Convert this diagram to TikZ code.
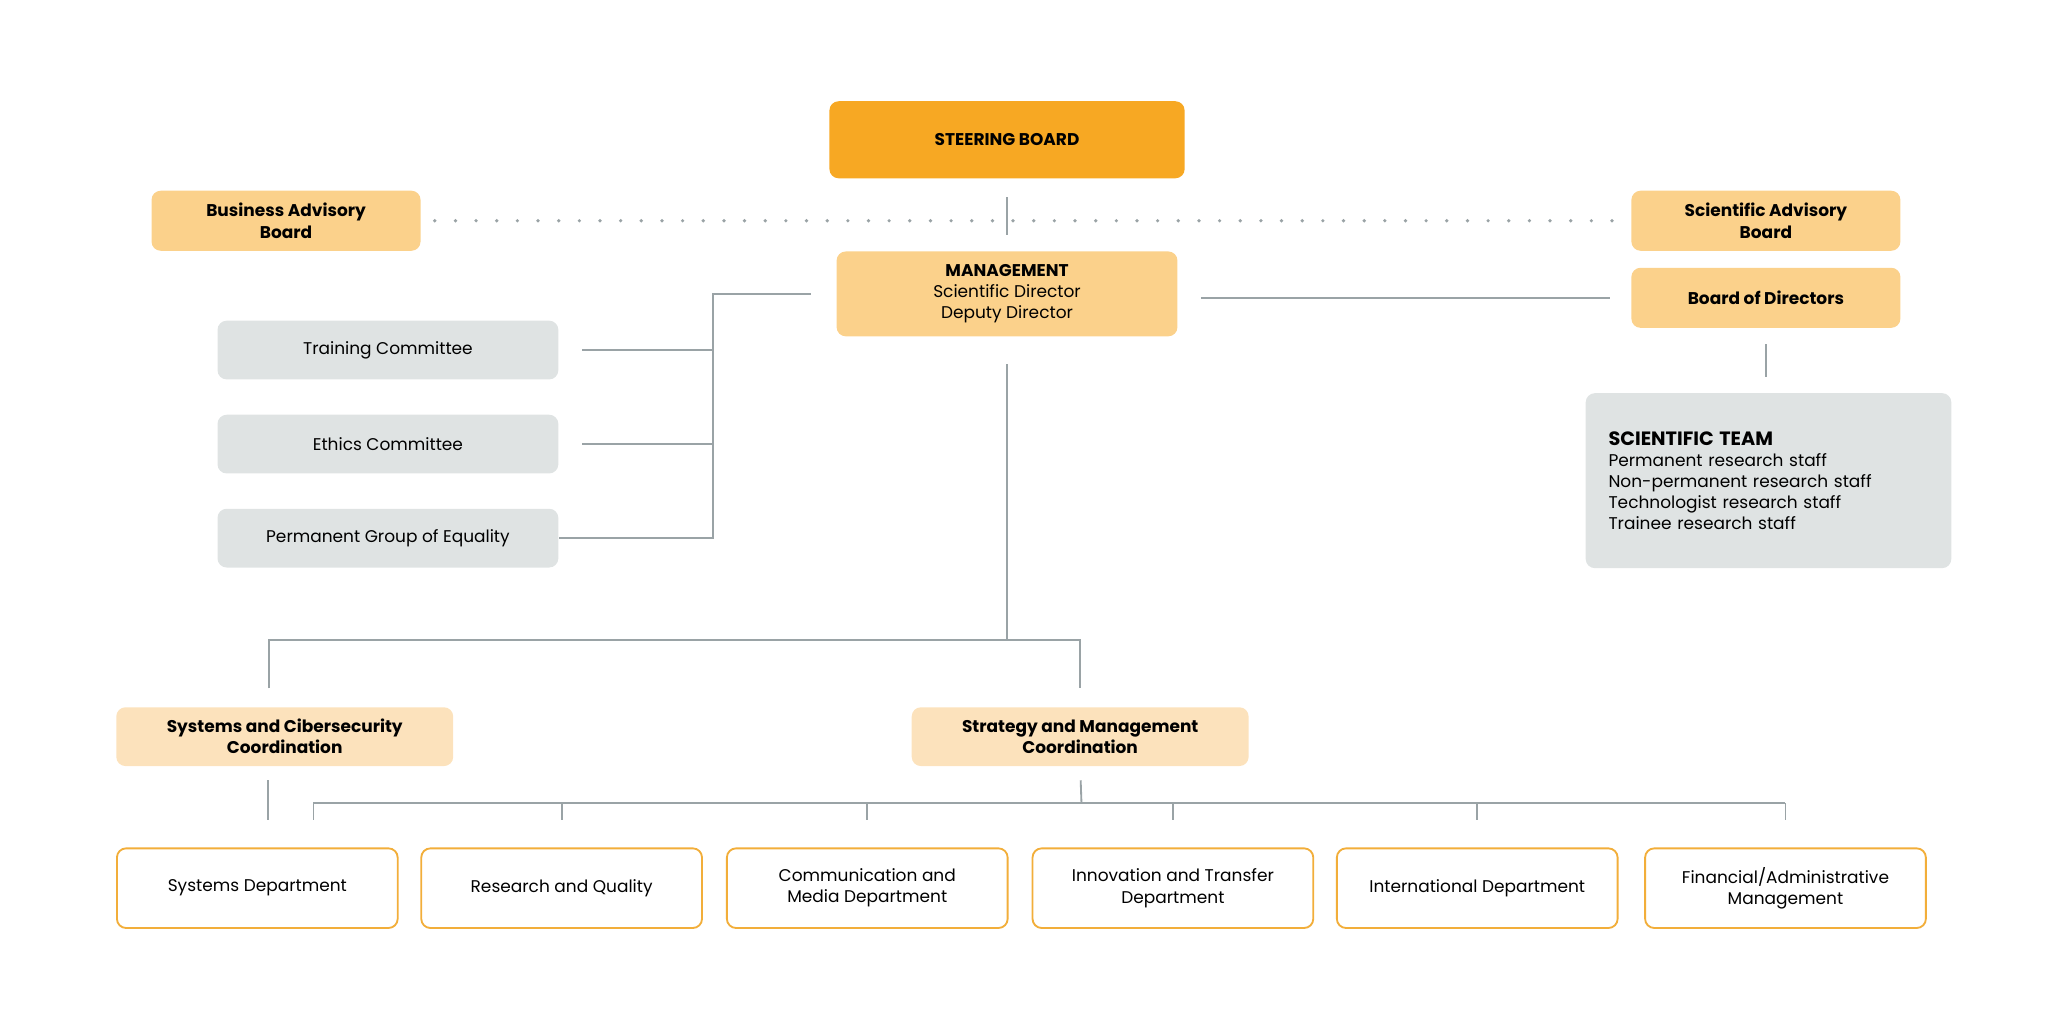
\documentclass[tikz,border=0pt]{standalone}
\usepackage{fontspec}
\setmainfont{Poppins}
\usetikzlibrary{positioning, calc}
\definecolor{steer}{HTML}{F7A823}
\definecolor{mgmt}{HTML}{FBD18B}
\definecolor{coord}{HTML}{FCE2BC}
\definecolor{comm}{HTML}{DFE3E3}
\definecolor{edge}{HTML}{9AA3A6}
\definecolor{dept}{HTML}{F2AE3A}
\begin{document}
\begin{tikzpicture}[
    x=0.02cm, y=-0.02cm,
    every node/.style={font=\fontsize{7.4}{9.2}\selectfont, align=center, inner sep=2pt},
    board/.style={rounded corners=4pt, fill=mgmt, minimum width=4.12cm, minimum height=0.92cm, font=\fontsize{7.4}{9.2}\selectfont\bfseries},
    committee/.style={rounded corners=4pt, fill=comm, minimum width=5.22cm, minimum height=0.9cm},
    coordbox/.style={rounded corners=4pt, fill=coord, minimum width=5.16cm, minimum height=0.9cm, font=\fontsize{7.4}{9.2}\selectfont\bfseries},
    dept/.style={rounded corners=4pt, draw=dept, line width=0.8pt, fill=white, minimum width=4.3cm, minimum height=1.22cm},
    conn/.style={draw=edge, line width=0.8pt},
]
\useasboundingbox (0,0) rectangle (1568,782);

% Boards
\node[board, fill=steer, minimum width=5.44cm, minimum height=1.18cm] (steering) at (771,107) {STEERING BOARD};
\node[board] (business) at (219,169) {Business Advisory\\Board};
\node[board] (scientific) at (1352,169) {Scientific Advisory\\Board};
\node[board, font=\fontsize{7.4}{9.2}\selectfont, minimum width=5.22cm, minimum height=1.3cm] (management) at (771,225) {\textbf{MANAGEMENT}\\Scientific Director\\Deputy Director};
\node[board] (directors) at (1352,228) {Board of Directors};

% Committees
\node[committee] (training) at (297,268) {Training Committee};
\node[committee] (ethics) at (297,340) {Ethics Committee};
\node[committee] (equality) at (297,412) {Permanent Group of Equality};
\node[committee, minimum width=5.6cm, minimum height=2.68cm, align=left, text width=4.9cm] (team) at (1354,368)
  {\textbf{\fontsize{8.4}{10}\selectfont SCIENTIFIC TEAM}\\Permanent research staff\\Non-permanent research staff\\Technologist research staff\\Trainee research staff};

% Coordinations
\node[coordbox] (syscoord) at (218,564) {Systems and Cibersecurity\\Coordination};
\node[coordbox] (stratcoord) at (827,564) {Strategy and Management\\Coordination};

% Departments
\node[dept] (d1) at (197,680) {Systems Department};
\node[dept] (d2) at (430,680) {Research and Quality};
\node[dept] (d3) at (664,680) {Communication and\\Media Department};
\node[dept] (d4) at (898,680) {Innovation and Transfer\\Department};
\node[dept] (d5) at (1131,680) {International Department};
\node[dept] (d6) at (1367,680) {Financial/Administrative\\Management};

% Junctions
\coordinate (jl) at (546,229);
\coordinate (jb) at (771,490);
\coordinate (jd) at (828,615);

% Connections
\draw[conn, shorten <=8pt, shorten >=7pt] (steering) -- (management);
\draw[conn, dotted, line width=1.6pt, line cap=round, dash pattern=on 0pt off 9pt, shorten <=6pt, shorten >=6pt] (business) -- (scientific);
\draw[conn, shorten <=11pt] (management.west) -- (jl |- management.west) -- (jl |- equality.east) -- (equality.east);
\draw[conn, shorten >=10pt] (jl |- training.east) -- (training.east);
\draw[conn, shorten >=10pt] (jl |- ethics.east) -- (ethics.east);
\draw[conn, shorten <=10pt, shorten >=9pt] (management.east |- directors) -- (directors);
\draw[conn, shorten <=7pt, shorten >=7pt] (directors) -- (directors |- team.north);
\draw[conn, shorten <=12pt] (management) -- (jb);
\draw[conn, shorten <=8pt, shorten >=8pt] ([xshift=-0.24cm]syscoord.north) -- ([xshift=-0.24cm]syscoord.north |- jb) -- (stratcoord.north |- jb) -- (stratcoord.north);
\draw[conn, shorten <=6pt, shorten >=12pt] ([xshift=-0.26cm]syscoord.south) -- ([xshift=-0.26cm]syscoord.south |- d1.north);
\draw[conn, shorten <=6pt] (stratcoord.south) -- (jd);
\draw[conn] ([xshift=0.86cm]d1.north |- jd) -- (d6.north |- jd);
\draw[conn, shorten >=12pt] ([xshift=0.86cm]d1.north |- jd) -- ([xshift=0.86cm]d1.north);
\foreach \d in {d2, d3, d4, d5, d6}
  \draw[conn, shorten >=12pt] (\d.north |- jd) -- (\d.north);

\end{tikzpicture}
\end{document}
